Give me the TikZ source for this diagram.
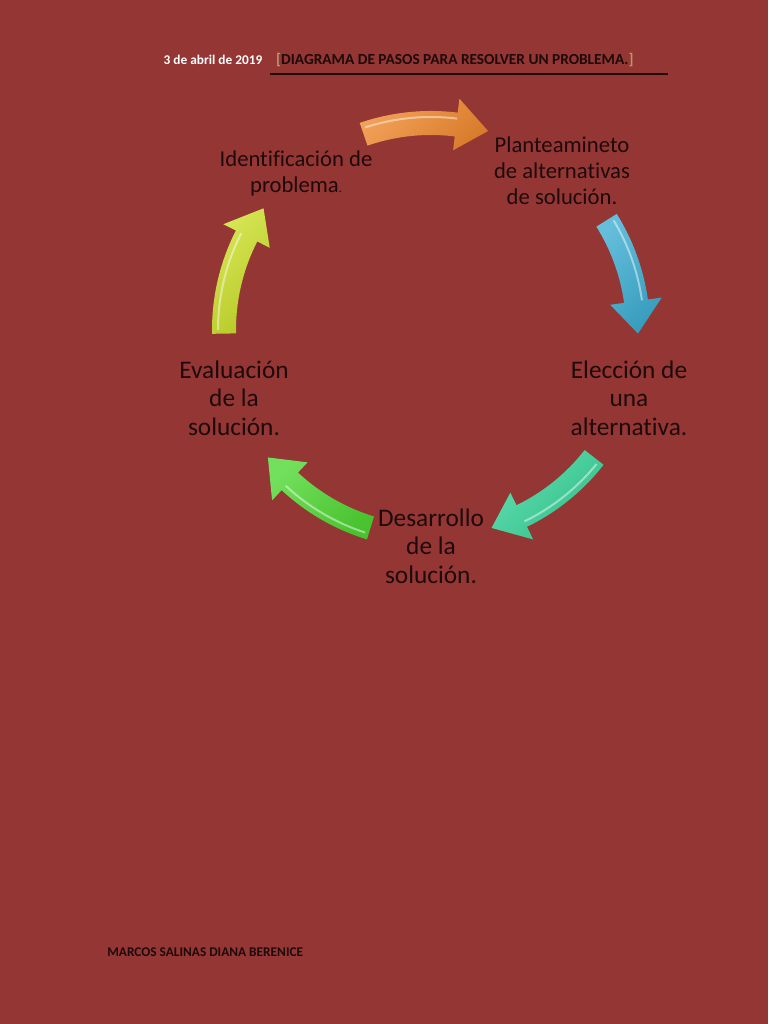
\documentclass[tikz,border=0pt]{standalone}
\usepackage{fontspec}
\setmainfont{Carlito}[Ligatures=CommonOff]
\usetikzlibrary{positioning}

\definecolor{fondo}{HTML}{943634}
\definecolor{texto}{HTML}{1E0A0A}
\definecolor{corchete}{HTML}{B89868}
\definecolor{naranja}{HTML}{F08A30}
\definecolor{azul}{HTML}{3EAED2}
\definecolor{turquesa}{HTML}{38D49A}
\definecolor{verde}{HTML}{50D834}
\definecolor{amarillo}{HTML}{CCE02C}

% flecha curva: angulo de la cola, angulo de la punta, color
\newcommand{\flecha}[3]{%
  \pgfmathsetmacro{\angbase}{#2+9}
  \pgfmathsetmacro{\angcola}{#1-1}
  \shade[top color=#3!80!white,bottom color=#3!90!black,shading angle=45,shift={(centro)}]
    (#1:219) arc[start angle=#1,end angle=\angbase,radius=219]
    -- (\angbase:233) -- (#2:207) -- (\angbase:181)
    -- (\angbase:195) arc[start angle=\angbase,end angle=#1,radius=195] -- cycle;
  \draw[white,opacity=.45,line width=1.5,shift={(centro)}]
    (\angcola:213) arc[start angle=\angcola,end angle=\angbase,radius=213];
}

\begin{document}
\begin{tikzpicture}[x=0.75pt,y=0.75pt,
  paso/.style={align=center,text=texto,font=\fontsize{17}{19.5}\selectfont},
  pasog/.style={paso,font=\fontsize{19}{21.5}\selectfont},
  cabecera/.style={inner sep=0pt,font=\fontsize{10}{12}\selectfont\bfseries}]
\fill[fondo] (0,0) rectangle (768,1024);
\useasboundingbox (0,0) rectangle (768,1024);
\coordinate (centro) at (431,694);

% cabecera y pie
\node[cabecera,text=white] (fecha) at (213,964) {3 de abril de 2019};
\node[cabecera,text=texto,font=\fontsize{11.5}{13}\selectfont\bfseries,right=10pt of fecha] (titulo)
  {\textcolor{corchete}{[}DIAGRAMA DE PASOS PARA RESOLVER UN PROBLEMA.\textcolor{corchete}{]}};
\draw[texto,line width=1pt] (270,950) -- (668,950);
\node[cabecera,text=texto,anchor=west] (autor) at (107,72) {MARCOS SALINAS DIANA BERENICE};

% pasos
\node[paso] (ident) at (296,851) {Identificación de\\problema{\small.}};
\node[paso] (plant) at (562,853) {Planteamineto\\de alternativas\\de solución.};
\node[pasog] (elec) at (629,626) {Elección de\\una\\alternativa.};
\node[pasog] (desa) at (431,478) {Desarrollo\\de la\\solución.};
\node[pasog] (eval) at (234,626) {Evaluación\\de la\\solución.};

% flechas del ciclo
\flecha{109}{74}{naranja}
\flecha{32}{-1}{azul}
\flecha{-38}{-73}{turquesa}
\flecha{-107}{-142}{verde}
\flecha{181}{144}{amarillo}
\end{tikzpicture}
\end{document}
